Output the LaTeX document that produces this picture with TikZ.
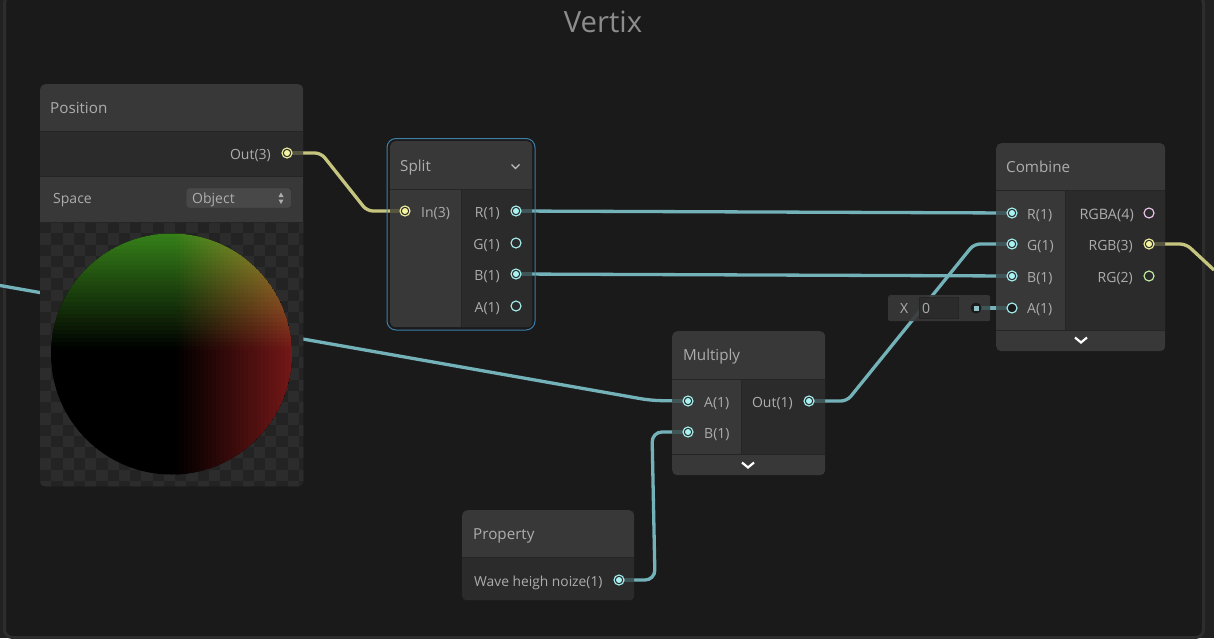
\documentclass[tikz,border=0pt]{standalone}
\usepackage{fontspec}
\setmainfont{Open Sans}
\usetikzlibrary{calc}
\definecolor{canvas}{HTML}{1A1A1A}
\definecolor{outside}{HTML}{212121}
\definecolor{framecol}{HTML}{2D2D2D}
\definecolor{lightband}{HTML}{383838}
\definecolor{darkband}{HTML}{2B2B2B}
\definecolor{sepcol}{HTML}{252525}
\definecolor{labelcol}{HTML}{ADADAD}
\definecolor{headcol}{HTML}{8C8C8C}
\definecolor{wireteal}{HTML}{74B2B9}
\definecolor{wireyellow}{HTML}{C6C57F}
\definecolor{stubteal}{HTML}{3F5659}
\definecolor{stubyellow}{HTML}{56563F}
\definecolor{ringteal}{HTML}{A8F2F2}
\definecolor{ringyellow}{HTML}{F4F4A0}
\definecolor{ringpink}{HTML}{F2C8F2}
\definecolor{ringgreen}{HTML}{C8F2A8}
\definecolor{checka}{HTML}{232323}
\definecolor{checkb}{HTML}{2C2C2C}
\definecolor{selectcol}{HTML}{3B7FA8}
\definecolor{dropcol}{HTML}{484848}
\tikzset{
    body/.style={
        rectangle,
        fill=lightband,
        rounded corners=5pt,
        anchor=north west,
        inner sep=0pt
    },
    title/.style={
        anchor=base west,
        text=labelcol,
        font=\fontsize{15.2}{16}\selectfont,
        inner sep=0pt
    },
    plabel/.style={
        text=labelcol,
        font=\fontsize{14}{16}\selectfont,
        inner sep=0pt
    },
    portleft/.style={plabel, anchor=base west},
    portright/.style={plabel, anchor=base east},
    port/.style={
        circle,
        draw=#1,
        line width=1.1pt,
        fill=darkband,
        minimum size=10pt,
        inner sep=0pt
    },
    linked/.style={
        path picture={\fill[#1] (path picture bounding box.center) circle (3pt);}
    },
    wire/.style={line width=3.3pt, rounded corners=#1},
    wire/.default=6pt,
    stub/.style={line width=3.3pt},
    sepline/.style={sepcol, line width=1pt},
    chevron/.pic={\draw[white, line width=2.2pt] (-6,-2.5) -- (0,2.5) -- (6,-2.5);}
}
\begin{document}
\begin{tikzpicture}[x=1pt, y=-1pt]
    \useasboundingbox (0,0) rectangle (1214,638);
    \fill[outside] (0,0) rectangle (1214,638);
    \node[rectangle, fill=canvas, draw=framecol, line width=3pt, rounded corners=8pt, anchor=north west, inner sep=0pt, minimum width=1199pt, minimum height=642pt] (vertix) at (3,-6) {};
    \node[text=headcol, font=\fontsize{29.3}{32}\selectfont, inner sep=0pt, anchor=base] (vertixname) at (603,32) {Vertix};

    % free ends and wires behind the nodes
    \coordinate (inleft) at (0,285.5);
    \coordinate (outright) at (1214,270);
    \coordinate (posout) at (287,153);
    \coordinate (splitin) at (405,211);
    \coordinate (splitr) at (516,211);
    \coordinate (splitb) at (516,274);
    \coordinate (combr) at (1012,213);
    \coordinate (combg) at (1012,244);
    \coordinate (combb) at (1012,276);
    \coordinate (comba) at (1012,308);
    \coordinate (combrgb) at (1149,244);
    \coordinate (mula) at (688,401);
    \coordinate (mulb) at (688,432);
    \coordinate (mulout) at (809,401);
    \coordinate (propout) at (619,580);
    \coordinate (xout) at (976,308);
    \draw[wire, wireyellow] (posout) -- (321,153) -- (367,211) -- (splitin);
    \draw[wire, wireteal] (splitr) -- (combr);
    \draw[wire, wireteal] (splitb) -- (combb);
    \draw[wire=10pt, wireteal] (inleft) -- (651,400.5) -- (mula);
    \draw[wire=10pt, wireteal] (propout) -- (655,580) -- (652,432) -- (mulb);
    \draw[wire, wireteal] (mulout) -- (847,401) -- (974,244) -- (combg);
    \draw[wire, wireyellow] (combrgb) -- (1186,244) -- (outright);
    \draw[stub, wireteal] (xout) -- (comba);

    % Position
    \node[body, minimum width=263pt, minimum height=402pt] (position) at (40,84) {};
    \begin{scope}
        \clip[rounded corners=5pt] (position.north west) rectangle (position.south east);
        \fill[darkband] (40,132) rectangle (303,176);
        \fill[checka] (40,222) rectangle (303,486);
        \foreach \i in {0,...,23} {
            \foreach \j in {0,...,23} {
                \pgfmathtruncatemacro{\odd}{mod(\i+\j,2)}
                \ifnum\odd=1
                    \fill[checkb] (40+\i*11.25,222+\j*11.25) rectangle ++(11.25,11.25);
                \fi
            }
        }
    \end{scope}
    \draw[sepline] (40,131.5) -- (303,131.5);
    \draw[sepline] (40,176) -- (303,176);
    \draw[sepline] (40,222) -- (303,222);
    \begin{scope}
        \clip (171.5,354) circle (120.5);
        \fill[black] (51,233) rectangle (292,475);
        \foreach \i in {0,...,59} {
            \foreach \j in {0,...,59} {
                \pgfmathsetmacro{\redv}{\i>=31 ? (\i-30.5)/29*118 : 0}
                \pgfmathsetmacro{\grnv}{\j<29 ? (28.5-\j)/29*130 : 0}
                \pgfmathtruncatemacro{\redi}{\redv+0.42*\grnv}
                \pgfmathtruncatemacro{\grni}{\grnv+0.2*\redv}
                \pgfmathtruncatemacro{\blui}{0.2*(\redv+\grnv)}
                \pgfmathtruncatemacro{\sumi}{\redi+\grni}
                \ifnum\sumi>0
                    \definecolor{cellcol}{RGB}{\redi,\grni,\blui}
                    \fill[cellcol] (51+\i*4.03,233+\j*4.03) rectangle ++(4.3,4.3);
                \fi
            }
        }
    \end{scope}
    \node[title] (posname) at (50,113) {Position};
    \node[portright] (posoutlabel) at (271,159) {Out(3)};
    \node[portleft] (spacelabel) at (53,203.3) {Space};
    \node[rectangle, fill=dropcol, draw=black!80, rounded corners=3pt, anchor=west, inner sep=0pt, minimum width=105pt, minimum height=20pt] (spacebox) at (186,198) {};
    \node[portleft] (spacevalue) at (192,203.3) {Object};
    \fill[labelcol] (278.5,197) -- (281,192.5) -- (283.5,197) -- cycle;
    \fill[labelcol] (278.5,199.5) -- (281,204) -- (283.5,199.5) -- cycle;
    \draw[stub, stubyellow] (posout) -- (posout -| position.east);
    \node[port=ringyellow, linked=ringyellow] (posoutport) at (posout) {};

    % Split
    \draw[selectcol, line width=1pt, rounded corners=9pt] (387,138.5) rectangle (535,330);
    \node[body, minimum width=142pt, minimum height=186pt] (split) at (390,141) {};
    \begin{scope}
        \clip[rounded corners=5pt] (split.north west) rectangle (split.south east);
        \fill[darkband] (461,189) rectangle (532,327);
    \end{scope}
    \draw[sepline] (390,189) -- (532,189);
    \draw[sepline] (461,189) -- (461,327);
    \node[title] (splitname) at (400,171) {Split};
    \draw[labelcol!80, line width=1.3pt] (511.5,164.5) -- (515.5,168.5) -- (519.5,164.5);
    \draw[stub, stubyellow] (split.west |- splitin) -- (splitin);
    \draw[stub, stubteal] (splitr) -- (splitr -| split.east);
    \draw[stub, stubteal] (splitb) -- (splitb -| split.east);
    \node[port=ringyellow, linked=ringyellow] (splitinport) at (splitin) {};
    \node[port=ringteal, linked=ringteal] (splitrport) at (splitr) {};
    \node[port=ringteal] (splitgport) at (516,243) {};
    \node[port=ringteal, linked=ringteal] (splitbport) at (splitb) {};
    \node[port=ringteal] (splitaport) at (516,306) {};
    \node[portleft] at (421,217) {In(3)};
    \node[portright] at (500,217) {R(1)};
    \node[portright] at (500,249) {G(1)};
    \node[portright] at (500,280) {B(1)};
    \node[portright] at (500,312) {A(1)};

    % Multiply
    \node[body, minimum width=153pt, minimum height=144pt] (multiply) at (672,331) {};
    \fill[darkband] (741,379) rectangle (825,454);
    \draw[sepline] (672,379) -- (825,379);
    \draw[sepline] (672,454) -- (825,454);
    \draw[sepline] (741,379) -- (741,454);
    \node[title] (mulname) at (683,360) {Multiply};
    \draw[stub, stubteal] (multiply.west |- mula) -- (mula);
    \draw[stub, stubteal] (multiply.west |- mulb) -- (mulb);
    \draw[stub, stubteal] (mulout) -- (mulout -| multiply.east);
    \node[port=ringteal, linked=ringteal] (mulaport) at (mula) {};
    \node[port=ringteal, linked=ringteal] (mulbport) at (mulb) {};
    \node[port=ringteal, linked=ringteal] (muloutport) at (mulout) {};
    \node[portleft] at (704,407) {A(1)};
    \node[portleft] at (704,438) {B(1)};
    \node[portright] at (793,407) {Out(1)};
    \pic at (748,465) {chevron};

    % Property
    \node[body, minimum width=172pt, minimum height=90pt] (property) at (462,510) {};
    \begin{scope}
        \clip[rounded corners=5pt] (property.north west) rectangle (property.south east);
        \fill[darkband] (462,557) rectangle (634,600);
    \end{scope}
    \draw[sepline] (462,557) -- (634,557);
    \node[title] (propname) at (473,539.3) {Property};
    \draw[stub, stubteal] (propout) -- (propout -| property.east);
    \node[port=ringteal, linked=ringteal] (propoutport) at (propout) {};
    \node[portleft, font=\fontsize{13.8}{16}\selectfont] at (474,586) {Wave heigh noize(1)};

    % Combine
    \node[body, minimum width=169pt, minimum height=208pt] (combine) at (996,143) {};
    \fill[darkband] (1066,190) rectangle (1165,330);
    \draw[sepline] (996,190) -- (1165,190);
    \draw[sepline] (996,330) -- (1165,330);
    \draw[sepline] (1065.5,190) -- (1065.5,330);
    \node[title] (combname) at (1006,172.5) {Combine};
    \draw[stub, stubteal] (combine.west |- combr) -- (combr);
    \draw[stub, stubteal] (combine.west |- combg) -- (combg);
    \draw[stub, stubteal] (combine.west |- combb) -- (combb);
    \draw[stub, stubteal] (combine.west |- comba) -- (comba);
    \draw[stub, stubyellow] (combrgb) -- (combrgb -| combine.east);
    \node[port=ringteal, linked=ringteal] (combrport) at (combr) {};
    \node[port=ringteal, linked=ringteal] (combgport) at (combg) {};
    \node[port=ringteal, linked=ringteal] (combbport) at (combb) {};
    \node[port=ringteal, fill=canvas] (combaport) at (comba) {};
    \node[port=ringpink] (combrgbaport) at (1149,213) {};
    \node[port=ringyellow, linked=ringyellow] (combrgbport) at (combrgb) {};
    \node[port=ringgreen] (combrgport) at (1149,276) {};
    \node[portleft] at (1027,219.5) {R(1)};
    \node[portleft] at (1027,250.5) {G(1)};
    \node[portleft] at (1027,282.5) {B(1)};
    \node[portleft] at (1027,313.5) {A(1)};
    \node[portright, font=\fontsize{14.4}{16}\selectfont] at (1134,219) {RGBA(4)};
    \node[portright] at (1133,250) {RGB(3)};
    \node[portright] at (1133,282) {RG(2)};
    \pic at (1081,340) {chevron};

    % default value of A(1)
    \node[body, fill opacity=0.9, rounded corners=2pt, minimum width=102pt, minimum height=26pt] (xbox) at (888,295) {};
    \node[rectangle, fill=darkband, fill opacity=0.9, draw=sepcol, line width=1.4pt, anchor=west, inner sep=0pt, minimum width=39pt, minimum height=21pt] (xfield) at (919,308) {};
    \node[portleft] (xlabel) at (900,313) {X};
    \node[portleft] (xvalue) at (922,313) {0};
    \draw[stub, stubteal] (xout) -- (xout -| xbox.east);
    \node[circle, fill=canvas, inner sep=0pt, minimum size=11pt] (xport) at (xout) {};
    \fill[wireteal!80!white] (xport.center) +(-2.5,-2.5) rectangle +(2.5,2.5);
\end{tikzpicture}
\end{document}
